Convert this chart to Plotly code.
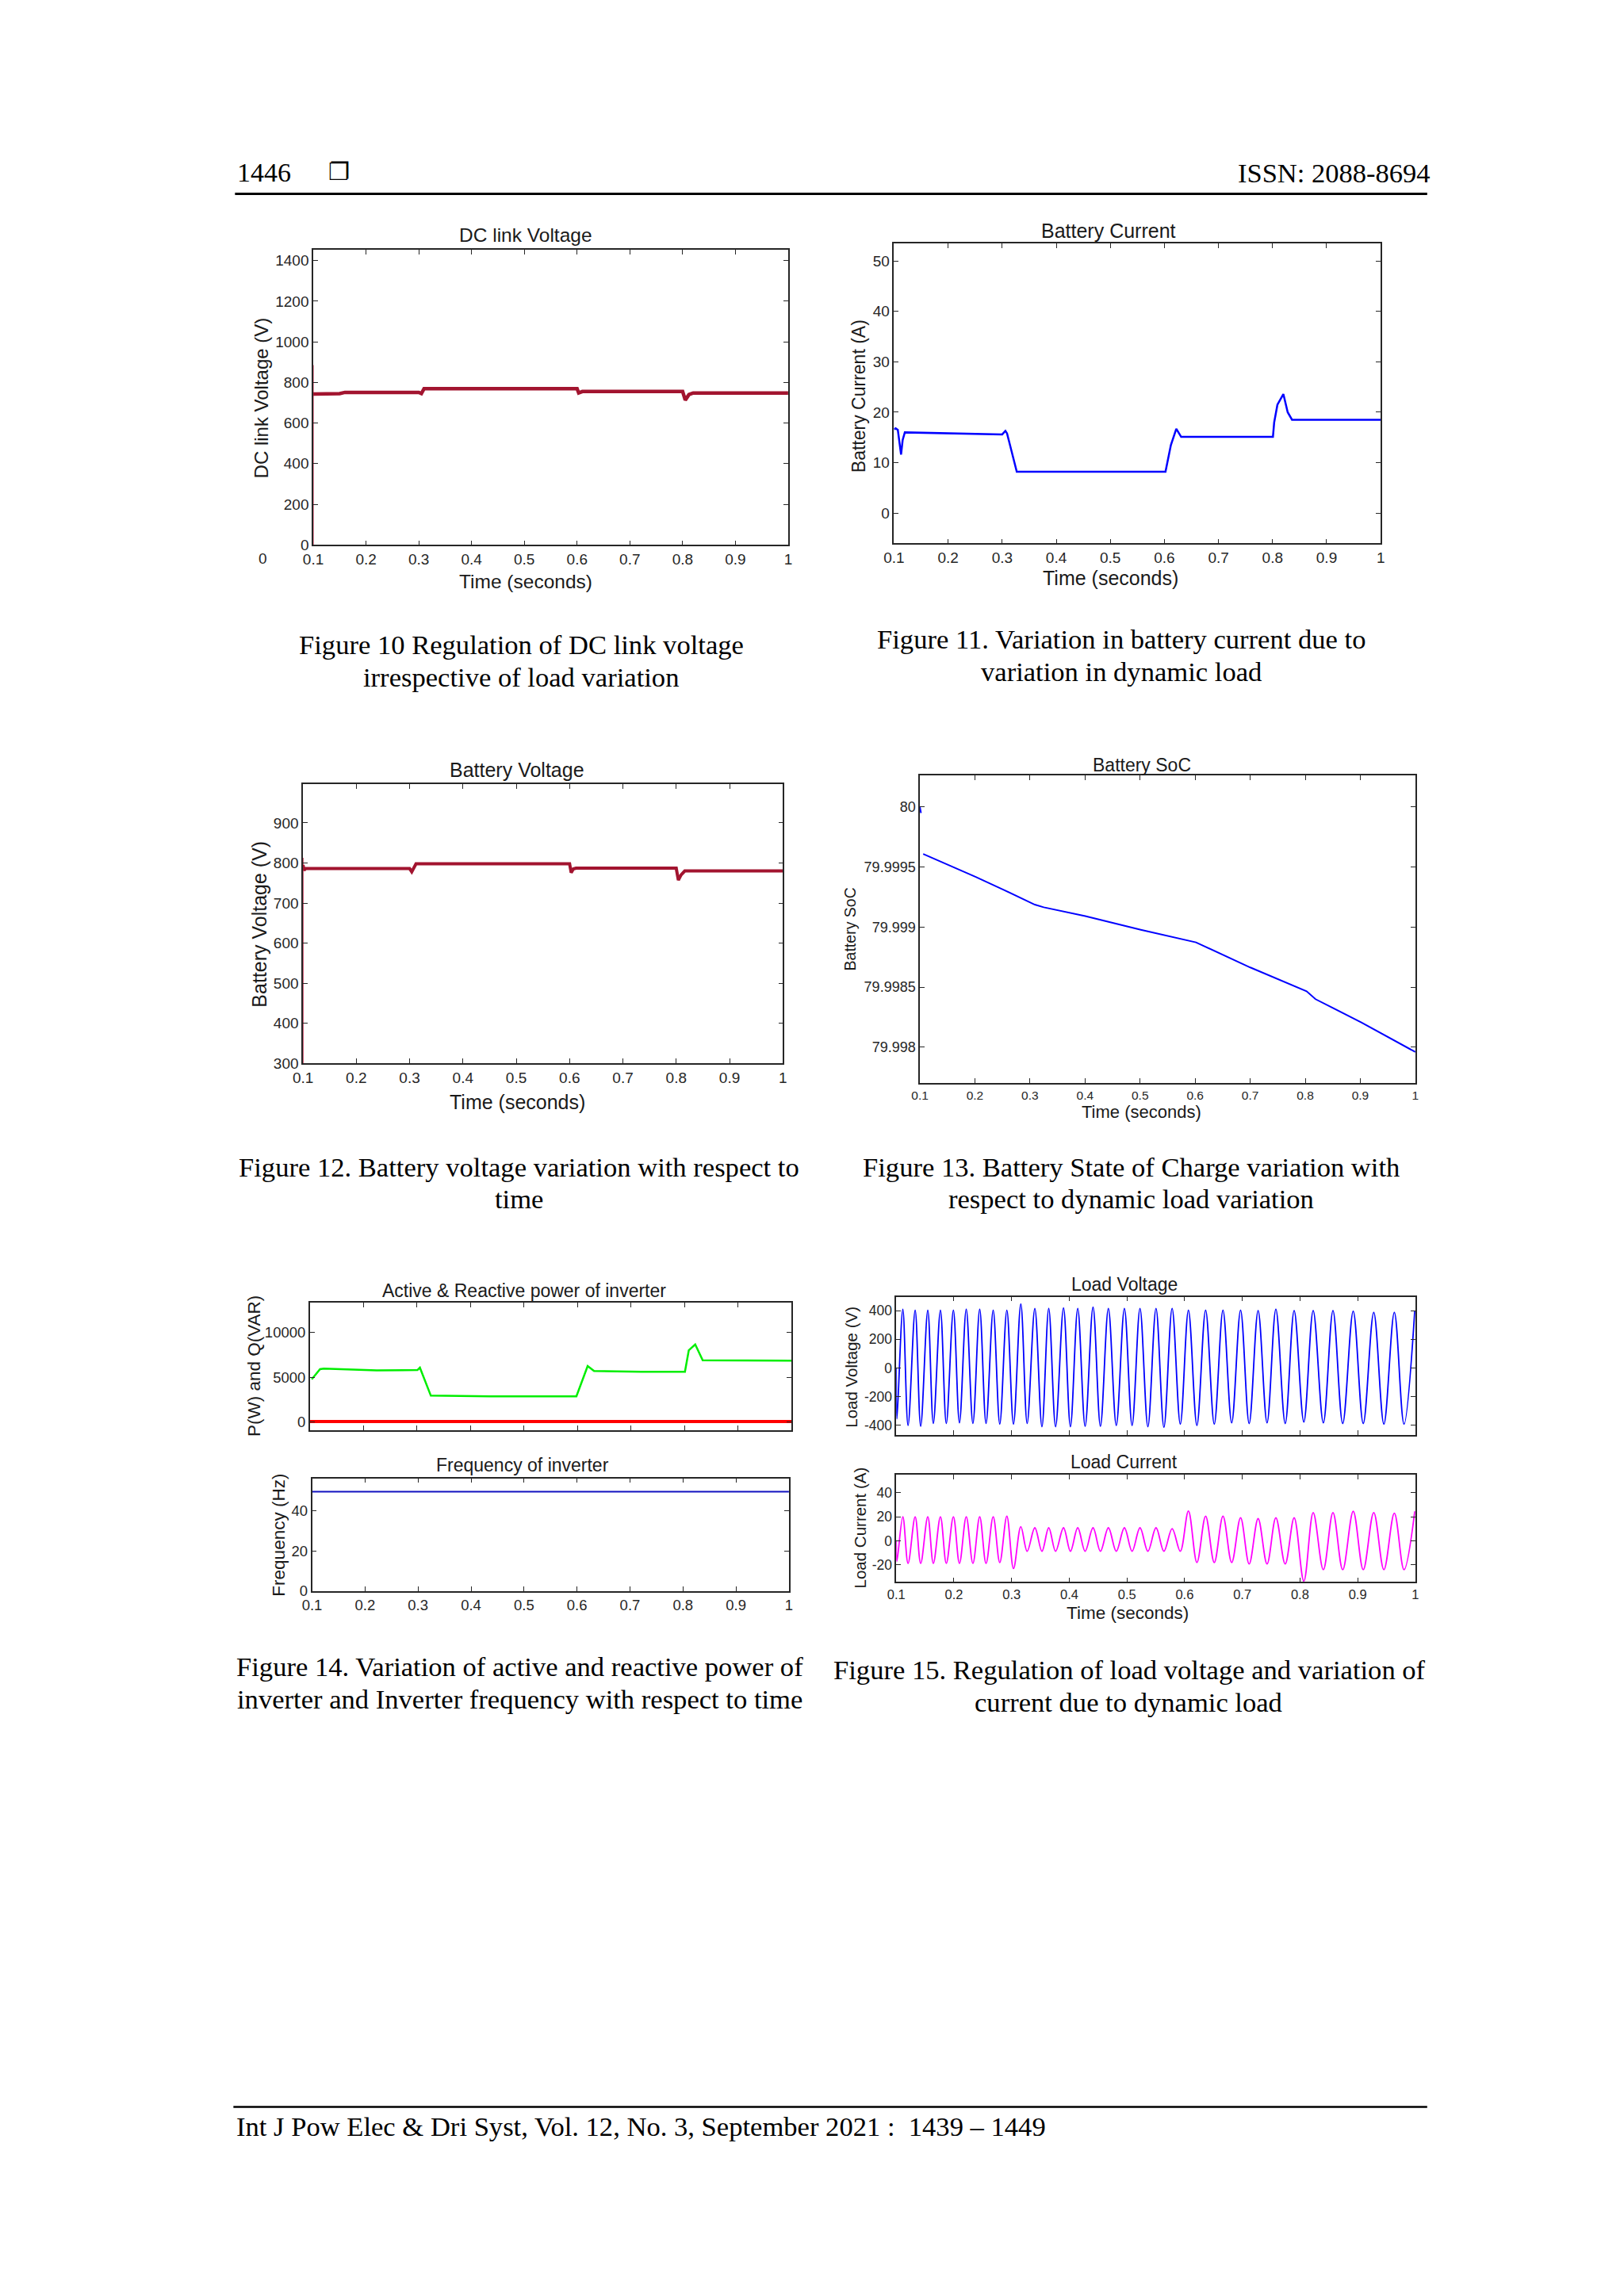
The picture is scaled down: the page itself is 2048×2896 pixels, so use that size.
import plotly.graph_objects as go

# ---------------- page geometry helpers ----------------
# (measured: the rendered page lands at x' = 7.8 + 0.9942 x, y' = -1.8 + 0.9974 y)
W, H = 2048, 2896
def X(px):
    return ((px - 7.8) / 0.9942) / W
def Y(py):
    return 1 - ((py + 1.8) / 0.9974) / H

SANS = "Liberation Sans, Arial, sans-serif"
SERIF = "Liberation Serif, Times New Roman, serif"
AX = "#262626"

# ---------------- data ----------------
time_ticks = [0.1, 0.2, 0.3, 0.4, 0.5, 0.6, 0.7, 0.8, 0.9, 1.0]
time_tick_text = ["0.1", "0.2", "0.3", "0.4", "0.5", "0.6", "0.7", "0.8", "0.9", "1"]

# Figure 10 - DC link voltage
dc_start_t = [0.1, 0.1]
dc_start_v = [0, 885]
dc_t = [0.1, 0.15, 0.16, 0.30, 0.305, 0.31, 0.60, 0.603, 0.61, 0.80, 0.805, 0.812, 0.82, 1.0]
dc_v = [743, 745, 751, 751, 745, 769, 769, 748, 755, 755, 713, 740, 748, 748]

# Figure 11 - Battery current
bc_t = [0.1, 0.103, 0.107, 0.110, 0.113, 0.116, 0.12, 0.30, 0.306, 0.309, 0.327,
        0.602, 0.612, 0.622, 0.626, 0.631, 0.8007, 0.803, 0.809, 0.82, 0.828, 0.836, 1.0]
bc_v = [16.6, 16.8, 16.5, 14.0, 11.6, 14.5, 16.0, 15.6, 16.3, 15.8, 8.2,
        8.2, 13.5, 16.7, 16.0, 15.1, 15.1, 18.0, 21.5, 23.6, 20.0, 18.5, 18.5]

# Figure 12 - Battery voltage
bv_start_t = [0.1, 0.1]
bv_start_v = [300, 813]
bv_t = [0.1, 0.102, 0.105, 0.30, 0.304, 0.312, 0.60, 0.603, 0.607, 0.612, 0.80, 0.804, 0.809, 0.816, 1.0]
bv_v = [795, 782, 786, 786, 778, 798, 798, 776, 785, 787, 787, 757, 770, 780, 780]

# Figure 13 - Battery SoC
soc_t1 = [0.1, 0.102]
soc_v1 = [80.0, 79.99995]
soc_t2 = [0.106, 0.2016, 0.2545, 0.3088, 0.325, 0.4005, 0.5013, 0.6015, 0.7002, 0.8025, 0.8187, 0.9019, 1.0]
soc_v2 = [79.999609, 79.999418, 79.999305, 79.999187, 79.999165, 79.999092, 79.998978,
          79.998873, 79.998664, 79.998466, 79.998400, 79.998207, 79.997960]
soc_ticks = [79.998, 79.9985, 79.999, 79.9995, 80.0]
soc_tick_text = ["79.998", "79.9985", "79.999", "79.9995", "80"]

# Figure 14 - Active & reactive power, frequency
p_t = [0.1035, 0.112, 0.119, 0.126, 0.176, 0.225, 0.301, 0.3056, 0.326, 0.437, 0.598,
       0.619, 0.631, 0.7196, 0.8008, 0.808, 0.82, 0.834, 1.0]
p_v = [4780, 5370, 5900, 5960, 5880, 5780, 5810, 6080, 2950, 2880, 2880,
       6250, 5700, 5620, 5620, 8020, 8670, 6900, 6850]
q_t = [0.1, 1.0]
q_v = [50, 50]
f_t = [0.1, 1.0]
f_v = [49.5, 49.5]

# Figure 15 - Load voltage / current (extremes of each cycle)
lv_start_t = [0.1, 0.1012]
lv_start_v = [0, -355]
peak_t = [0.1114, 0.1328, 0.1547, 0.1766, 0.1991, 0.2214, 0.2447, 0.2681, 0.2918, 0.3160,
          0.3403, 0.3644, 0.3900, 0.4147, 0.4412, 0.4678, 0.4956, 0.5226, 0.5504, 0.5783,
          0.6066, 0.6364, 0.6665, 0.6970, 0.7274, 0.7582, 0.7899, 0.8229, 0.8572, 0.8923,
          0.9279, 0.9636, 0.999]
trough_t = [0.1205, 0.1424, 0.1643, 0.1868, 0.2096, 0.2329, 0.2557, 0.2795, 0.3033, 0.3270,
            0.3526, 0.3763, 0.4020, 0.4275, 0.4540, 0.4815, 0.5089, 0.5363, 0.5641, 0.5925,
            0.6213, 0.6514, 0.6816, 0.7119, 0.7429, 0.7744, 0.8067, 0.8405, 0.8741, 0.9097,
            0.9455, 0.9804]
lv_peak_v = [409, 403, 403, 403, 403, 409, 409, 403, 403, 446, 415, 415, 419, 415, 424, 415,
             415, 415, 415, 415, 403, 403, 403, 403, 400, 409, 400, 400, 400, 396, 387, 387, 400]
lv_trough_v = [-400, -406, -386, -386, -382, -386, -386, -391, -391, -386, -409, -409, -409,
               -406, -406, -400, -400, -409, -413, -391, -400, -391, -382, -387, -382, -387,
               -376, -382, -387, -387, -391, -391]
lc_start_t = [0.1, 0.1012]
lc_start_v = [0, -17]
lc_peak_v = [20.1, 20.1, 20.1, 20.1, 20.1, 20.1, 20.1, 20.1, 20.5,
             11.8, 10.9, 10.9, 10.9, 10.9, 10.9, 10.9, 10.9, 10.9, 10.9, 10.2,
             24.9, 20.5, 20.5, 19.2, 18.5, 19.2, 19.2,
             23.5, 23.5, 24.6, 23.5, 23.0, 24.6]
lc_trough_v = [-18.8, -18.8, -18.8, -18.8, -18.8, -18.8, -18.8, -18.1, -23.1,
               -8.7, -8.7, -8.7, -8.7, -8.7, -8.7, -8.7, -8.7, -8.7, -8.7, -8.7,
               -18.1, -18.1, -18.1, -19.3, -19.3, -19.3, -33.6,
               -24.1, -24.1, -24.1, -24.1, -24.1]


def wave(start_t, start_v, pv, tv):
    pts = list(zip(start_t, start_v)) + list(zip(peak_t, pv)) + list(zip(trough_t, tv))
    pts.sort(key=lambda p: p[0])
    return [p[0] for p in pts], [p[1] for p in pts]

lv_t, lv_v = wave(lv_start_t, lv_start_v, lv_peak_v, lv_trough_v)
lc_t, lc_v = wave(lc_start_t, lc_start_v, lc_peak_v, lc_trough_v)

# ---------------- figure ----------------
fig = go.Figure()
layout = dict(width=W, height=H, margin=dict(l=0, r=0, t=0, b=0),
              paper_bgcolor="white", plot_bgcolor="white", showlegend=False)


def axes(i, box, yr, ytv, ytt, xlabels=True, tfs=19, xtfs=None):
    l, r, t, b = box
    xn = "xaxis" if i == 1 else f"xaxis{i}"
    yn = "yaxis" if i == 1 else f"yaxis{i}"
    common = dict(showline=True, linecolor=AX, linewidth=1.5, mirror="allticks",
                  ticks="inside", ticklen=6, tickwidth=1.2, tickcolor=AX,
                  showgrid=False, zeroline=False)
    layout[xn] = dict(domain=[X(l), X(r)], range=[0.1, 1.0], anchor=f"y{'' if i == 1 else i}",
                      tickvals=time_ticks, ticktext=time_tick_text, showticklabels=xlabels,
                      tickfont=dict(family=SANS, size=xtfs or tfs, color=AX), **common)
    layout[yn] = dict(domain=[Y(b), Y(t)], range=yr, anchor=f"x{'' if i == 1 else i}",
                      tickvals=ytv, ticktext=ytt,
                      tickfont=dict(family=SANS, size=tfs, color=AX), **common)


def line(i, x, y, color, width, shape="linear"):
    fig.add_trace(go.Scatter(x=x, y=y, mode="lines",
                             line=dict(color=color, width=width, shape=shape, smoothing=1.0),
                             xaxis="x" if i == 1 else f"x{i}",
                             yaxis="y" if i == 1 else f"y{i}",
                             hoverinfo="skip"))

# Fig 10
axes(1, (391, 991.7, 313.9, 686.3), [0, 1452], list(range(0, 1401, 200)),
     [str(v) for v in range(0, 1401, 200)])
line(1, dc_start_t, dc_start_v, "#d9607a", 1.5)
line(1, dc_t, dc_v, "#A2142F", 4.5)
# Fig 11
axes(2, (1125.6, 1741.2, 305.5, 684.3), [-6, 53.5], [0, 10, 20, 30, 40, 50],
     ["0", "10", "20", "30", "40", "50"])
line(2, bc_t, bc_v, "#0000FF", 2.5)
# Fig 12
axes(3, (378, 985, 988.3, 1341), [300, 997], list(range(300, 901, 100)),
     [str(v) for v in range(300, 901, 100)])
line(3, bv_start_t, bv_start_v, "#c0304f", 1.5)
line(3, bv_t, bv_v, "#A2142F", 4)
# Fig 13
axes(4, (1158.3, 1785, 977.3, 1366), [79.997701, 80.000264], soc_ticks, soc_tick_text,
     tfs=18, xtfs=15.5)
line(4, soc_t1, soc_v1, "#0000FF", 2)
line(4, soc_t2, soc_v2, "#0000FF", 2)
# Fig 14
axes(5, (386.7, 996, 1643.3, 1804.3), [-912, 13336], [0, 5000, 10000], ["0", "5000", "10000"],
     xlabels=False, tfs=18.5)
line(5, q_t, q_v, "#FF0000", 4)
line(5, p_t, p_v, "#00EE00", 2.5)
axes(6, (389.5, 992.7, 1865, 2007.3), [0, 56.2], [0, 20, 40], ["0", "20", "40"], tfs=18.5)
line(6, f_t, f_v, "#1010c0", 2)
# Fig 15
axes(7, (1128.4, 1785, 1635.7, 1810), [-465, 497], [-400, -200, 0, 200, 400],
     ["-400", "-200", "0", "200", "400"], xlabels=False, tfs=17.5)
line(7, lv_t, lv_v, "#0000FF", 1.8, shape="spline")
axes(8, (1128.4, 1785, 1860.7, 1996), [-34.3, 55], [-20, 0, 20, 40],
     ["-20", "0", "20", "40"], tfs=17.5, xtfs=16.5)
line(8, lc_t, lc_v, "#FF00FF", 1.8, shape="spline")

# ---------------- text ----------------
ann = []
def text(px, py, s, size, family=SANS, angle=0, xanchor="center", color="#1a1a1a"):
    ann.append(dict(x=X(px), y=Y(py), xref="paper", yref="paper", text=s, showarrow=False,
                    xanchor=xanchor, yanchor="middle", textangle=angle, borderpad=0,
                    font=dict(family=family, size=size, color=color)))

# chart titles / labels
text(660, 295, "DC link Voltage", 24.5)
text(660, 733, "Time (seconds)", 24.5)
text(325, 501, "DC link Voltage (V)", 24, angle=-90)
text(327, 703.5, "0", 19, color=AX)

text(1397, 290, "Battery Current", 25)
text(1399, 728, "Time (seconds)", 25)
text(1081, 498, "Battery Current (A)", 23, angle=-90)

text(649, 970, "Battery Voltage", 25)
text(649, 1390, "Time (seconds)", 25)
text(323, 1165, "Battery Voltage (V)", 25, angle=-90)

text(1439, 964, "Battery SoC", 23)
text(1439, 1402, "Time (seconds)", 22)
text(1070, 1172, "Battery SoC", 19.5, angle=-90)

text(658, 1628, "Active &amp; Reactive power of inverter", 23)
text(316, 1723, "P(W) and Q(VAR)", 22.5, angle=-90)
text(655.5, 1848, "Frequency of inverter", 23)
text(347, 1937, "Frequency (Hz)", 22.5, angle=-90)

text(1417, 1620, "Load Voltage", 23)
text(1072, 1725, "Load Voltage (V)", 20.5, angle=-90)
text(1417, 1844, "Load Current", 23)
text(1083, 1927, "Load Current (A)", 20.5, angle=-90)
text(1421, 2035, "Time (seconds)", 22.5)

# header / footer
text(294, 216, "1446", 34, family=SERIF, xanchor="left", color="black")
text(424, 215, "❐", 30, family="DejaVu Sans", color="black")
text(1804, 216, "ISSN: 2088-8694", 34.5, family=SERIF, xanchor="right", color="black")
text(293, 2683, "Int J Pow Elec &amp; Dri Syst, Vol. 12, No. 3, September 2021 :  1439 – 1449",
     34.6, family=SERIF, xanchor="left", color="black")

# captions
caps = [
    (654, 812, "Figure 10 Regulation of DC link voltage"),
    (654, 853, "irrespective of load variation"),
    (1413, 805, "Figure 11. Variation in battery current due to"),
    (1413, 846, "variation in dynamic load"),
    (651, 1472, "Figure 12. Battery voltage variation with respect to"),
    (651, 1512, "time"),
    (1426, 1472, "Figure 13. Battery State of Charge variation with"),
    (1426, 1512, "respect to dynamic load variation"),
    (652, 2103, "Figure 14. Variation of active and reactive power of"),
    (652, 2144, "inverter and Inverter frequency with respect to time"),
    (1424, 2107, "Figure 15. Regulation of load voltage and variation of"),
    (1422, 2148, "current due to dynamic load"),
]
for cx, cy, s in caps:
    text(cx, cy, s, 34.6, family=SERIF, color="black")

layout["annotations"] = ann
layout["shapes"] = [
    dict(type="line", xref="paper", yref="paper", x0=X(292), x1=X(1800), y0=Y(243), y1=Y(243),
         line=dict(color="black", width=3)),
    dict(type="line", xref="paper", yref="paper", x0=X(290), x1=X(1800), y0=Y(2659), y1=Y(2659),
         line=dict(color="black", width=2.5)),
]
fig.update_layout(**layout)

page_fix = ("document.documentElement.style.margin='0';document.body.style.margin='0';"
            "document.documentElement.style.overflow='hidden';document.body.style.overflow='hidden';")
fig.write_html("out.html", post_script=page_fix, config={"displayModeBar": False})
